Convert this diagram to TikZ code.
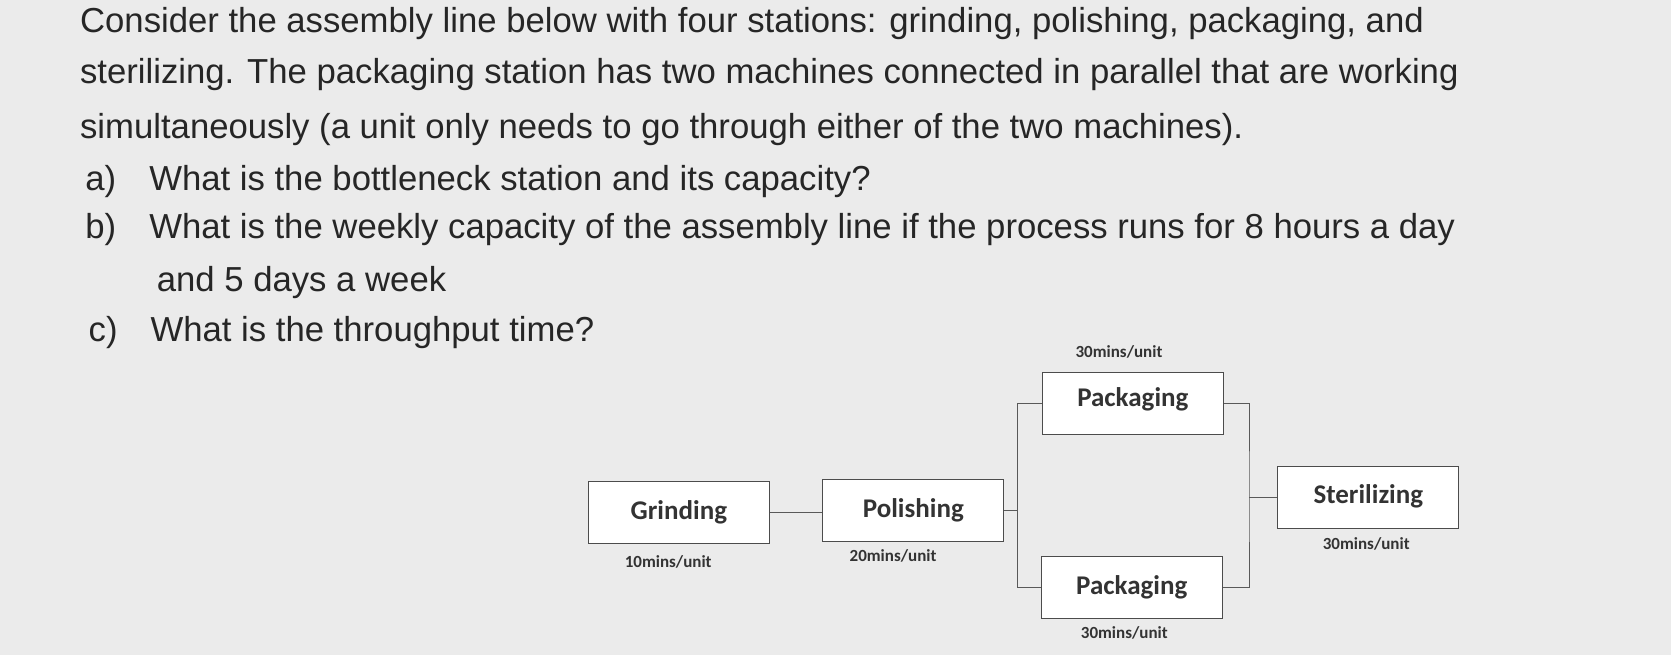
\documentclass[tikz,border=0pt]{standalone}
\usepackage{fontspec}
\setmainfont{Liberation Sans}
\newfontfamily\calib{Carlito}
\begin{document}
\begin{tikzpicture}[x=1.0657pt,y=-1.0657pt,
  q/.style={anchor=west,inner sep=0pt,font=\fontsize{34.7}{34.7}\selectfont,text=black!85},
  box/.style={draw=black!70,line width=1pt,fill=white,minimum width=181pt,minimum height=62pt,font=\calib\bfseries\fontsize{27}{27}\selectfont,text=black!80},
  lab/.style={font=\calib\bfseries\fontsize{17}{17}\selectfont,text=black!80,inner sep=0pt},
  ln/.style={draw=black!65,line width=1pt}]
\useasboundingbox[fill=black!8] (0,0) rectangle (1568,615);
\node[q] (l1) at (75,22) {Consider the assembly line below with four stations: grinding, polishing, packaging, and};
\node[q] (l2) at (75,70) {sterilizing. The packaging station has two machines connected in parallel that are working};
\node[q] (l3) at (75,122) {simultaneously (a unit only needs to go through either of the two machines).};
\node[q] (a) at (80,170) {a)\hspace{33pt}What is the bottleneck station and its capacity?};
\node[q] (b) at (80,215) {b)\hspace{33pt}What is the weekly capacity of the assembly line if the process runs for 8 hours a day};
\node[q] (b2) at (147,265) {and 5 days a week};
\node[q] (c) at (83,312) {c)\hspace{33pt}What is the throughput time?};
\node[box] (g) at (637,481) {Grinding};
\node[box] (p) at (857,479) {Polishing};
\node[box] (pt) at (1063,379) {\raisebox{14pt}{Packaging}};
\node[box] (pb) at (1062,551) {Packaging};
\node[box] (s) at (1284,467) {\raisebox{8pt}{Sterilizing}};
\node[lab] (gl) at (627,527) {10mins/unit};
\node[lab] (plab) at (838,522) {20mins/unit};
\node[lab] (ptl) at (1050,330) {30mins/unit};
\node[lab] (pbl) at (1055,594) {30mins/unit};
\node[lab] (sl) at (1282,510) {30mins/unit};
\coordinate (j1) at (955,479);
\coordinate (j2) at (1172,467);
\draw[ln] (g.east) -- (g.east -| p.west);
\draw[ln] (p.east) -- (j1);
\draw[ln] (pt.west) -| (j1) |- (pb.west);
\draw[ln] (pt.east) -| (j2) |- (pb.east);
\draw[ln] (s.west) -- (j2);
\end{tikzpicture}
\end{document}
